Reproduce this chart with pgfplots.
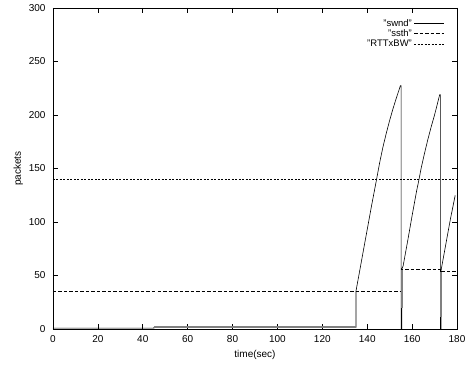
\documentclass[border=0pt]{standalone}
\usepackage{fontspec}
\setmainfont{Liberation Sans}
\usepackage{pgfplots}
\pgfplotsset{compat=1.18}
\begin{document}
\begin{tikzpicture}
\begin{axis}[
  at={(0,0)}, anchor=south west,
  scale only axis, width=404pt, height=321pt,
  xmin=0, xmax=180, ymin=0, ymax=300,
  xtick={0,20,...,180}, ytick={0,50,...,300},
  tick align=inside, major tick length=5pt,
  xtick pos=both, ytick pos=both,
  /pgf/number format/assume math mode=true,
  tick label style={font=\fontsize{10}{11}\selectfont},
  xticklabel style={yshift=-2.5pt},
  yticklabel style={xshift=-4pt},
  label style={font=\fontsize{10}{11}\selectfont},
  xlabel={time(sec)}, ylabel={packets},
  xlabel style={yshift=-1pt}, ylabel style={yshift=-1pt},
  axis line style={line width=0.6pt},
  every tick/.style={line width=0.6pt, black},
  legend style={at={(0.972,0.975)}, anchor=north east, draw=none, fill=none,
    font=\fontsize{9.5}{9.5}\selectfont, row sep=-2pt, inner sep=1pt},
  legend cell align=right,
  legend plot pos=right,
  legend image code/.code={\draw[#1] (0pt,0pt) -- (30pt,0pt);},
]
\addplot[black, line width=0.6pt] coordinates {
 (0,0.8) (45,0.8) (45,1.5) (135,1.5) (135,35.5)
 (136,47) (138,70) (140,93) (142,116) (144,138) (145.5,155) (147,170)
 (148.5,183) (150,195) (151.5,206) (153,216) (154.8,227.5)
 (155.1,227.5) (155.1,0) (155.4,0) (155.4,56)
 (156,59) (158,82) (160,106) (162,129) (163,139) (164,150) (165.5,164)
 (167,177) (168.5,189) (170,200) (171.2,210) (172.3,219)
 (172.6,219) (172.6,0) (172.9,0) (172.9,54)
 (173,56) (175,79) (177,102) (179.2,125)
};
\addlegendentry{"swnd"}
\addplot[black, line width=0.6pt, dash pattern=on 3.5pt off 2pt] coordinates {
 (0,35.5) (155.2,35.5) (155.2,56) (172.7,56) (172.7,54) (180,54)
};
\addlegendentry{"ssth"}
\addplot[black, line width=0.6pt, dash pattern=on 2pt off 1.5pt] coordinates {
 (0,140) (180,140)
};
\addlegendentry{"RTTxBW"}
\addplot[gray, line width=2.2pt, forget plot] coordinates {(45,1.6) (134.8,1.6)};
\addplot[gray, line width=1.5pt, forget plot] coordinates {(155.4,20) (155.4,55)};
\addplot[gray, line width=1.5pt, forget plot] coordinates {(172.9,11) (172.9,53)};
\end{axis}
\path[use as bounding box] (-53pt,-38pt) rectangle (421pt,329pt);
\end{tikzpicture}
\end{document}
